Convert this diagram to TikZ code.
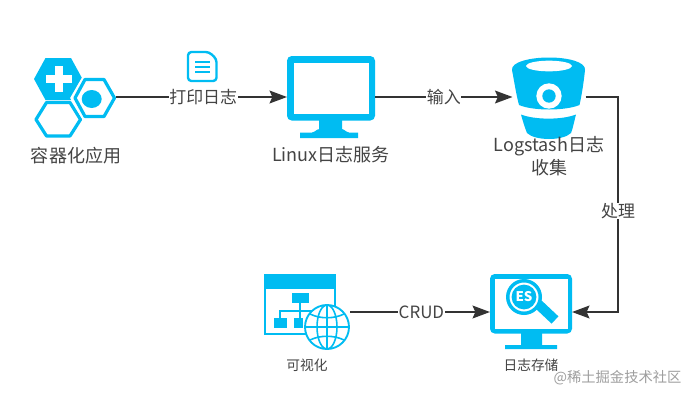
\documentclass[tikz,border=0pt]{standalone}
\usepackage{fontspec}
\setmainfont{Noto Sans CJK SC}
\usetikzlibrary{arrows.meta}
\definecolor{iconblue}{HTML}{00BCF2}
\definecolor{inkgrey}{HTML}{333333}
\definecolor{textgrey}{HTML}{444444}
\tikzset{
  x=0.75pt,y=-0.75pt,
  iconbox/.style={inner sep=0pt,outer sep=0pt,minimum width=#1},
  bluefill/.style={fill=iconblue,draw=none},
  whitefill/.style={fill=white,draw=none},
  blueline/.style={draw=iconblue,line width=2.4pt,line join=round},
  conn/.style={draw=inkgrey,line width=1.75pt,-{Stealth[length=13pt,width=9.5pt,inset=2pt]}},
  linelabel/.style={fill=white,inner sep=0.5pt,text=textgrey,font=\fontsize{12.7pt}{14pt}\selectfont},
  biglabel/.style={text=textgrey,inner sep=0pt,font=\fontsize{13.5pt}{17pt}\selectfont,align=center},
  smalllabel/.style={text=textgrey,inner sep=0pt,font=\fontsize{10.3pt}{12pt}\selectfont}
}
\begin{document}
\begin{tikzpicture}
\useasboundingbox (0,0) rectangle (695,400);
\fill[white] (0,0) rectangle (695,400);
% anchor boxes
\node[iconbox=60.75pt,minimum height=60.75pt] (app) at (75.5,97) {};
\node[iconbox=66pt,minimum height=48pt] (linux) at (331,97) {};
\node[iconbox=54.75pt,minimum height=60pt] (bucket) at (549,97) {};
\node[iconbox=61.5pt,minimum height=56.25pt] (es) at (531,312) {};
\node[iconbox=64.5pt,minimum height=57pt] (vis) at (307,312) {};
% app icon
\fill[bluefill] (34,79)--(45.5,58)--(71,58)--(82.5,79)--(71,100)--(45.5,100)--cycle;
\draw[blueline] (36,119.5)--(46.5,102.5)--(70,102.5)--(80.5,119.5)--(70,136)--(46.5,136)--cycle;
\draw[draw=white,line width=2.4pt,fill=white] (72,98)--(83.5,78)--(105.5,78)--(117,98)--(105.5,118)--(83.5,118)--cycle;
\draw[blueline,fill=white] (75,98)--(85,79.5)--(104,79.5)--(114.5,98)--(104,116.5)--(85,116.5)--cycle;
\fill[bluefill] (91.7,99) ellipse (7.5pt and 6.75pt);
\fill[whitefill] (46,74.5) rectangle (72,82.5);
\fill[whitefill] (55,65.5) rectangle (63,92);
% doc icon
\node[iconbox=22.5pt,minimum height=23.25pt] (doc) at (202,66.5) {};
\draw[draw=iconblue,line width=1.8pt,line join=round,rounded corners=2.5pt] (188,52)--(209,52)--(216.5,59)--(216.5,81)--(188,81)--cycle;
\foreach \yy in {62,67,72}{\fill[bluefill] (195,\yy-1.4) rectangle (210,\yy+1.4);}
% linux monitor
\fill[bluefill,rounded corners=3.5pt] (287,56) rectangle (375,120.5);
\fill[whitefill] (294,63) rectangle (369,114);
\fill[bluefill] (319,119)--(342,119)--(342,130) to[out=90,in=180] (349,132.5)--(358,132.5)--(358,138)--(300,138)--(300,132.5)--(312,132.5) to[out=0,in=90] (319,130)--cycle;
% bucket
\fill[bluefill] (512,70) .. controls (511,62) and (530,57.5) .. (549,57.5) .. controls (568,57.5) and (586,62) .. (585,70)
  .. controls (584,80) and (582,94) .. (579.5,105) .. controls (565,111) and (533,111) .. (519,105) .. controls (516,94) and (514,80) .. (512,70) -- cycle;
\fill[whitefill] (549,66) ellipse (17.25pt and 4pt);
\fill[bluefill] (521,114.5) .. controls (535,120) and (562,120) .. (576,114.5) .. controls (574,122) and (573,128) .. (571,133) .. controls (563,141) and (535,141) .. (527,133) .. controls (525,128) and (523,122) .. (521,114.5) -- cycle;
\fill[whitefill] (549,96) circle (9.5pt);
\fill[bluefill] (549,96) circle (5pt);
% ES monitor
\fill[bluefill,rounded corners=3.5pt] (490,274) rectangle (572,333.5);
\fill[whitefill] (494.5,278.5) rectangle (567.5,329);
\fill[bluefill] (521,333)--(542,333)--(542,345)--(557,345)--(557,349)--(505,349)--(505,345)--(521,345)--cycle;
\draw[draw=iconblue,line width=7.5pt] (538,304)--(555,320);
\draw[draw=iconblue,line width=2.6pt,fill=white] (524,297) circle (12.2pt);
\fill[bluefill] (524,297) circle (9.3pt);
\node[inner sep=0pt,text=white,font=\fontsize{10pt}{10pt}\selectfont\bfseries] (estext) at (524,297) {ES};
% visual icon
\fill[bluefill] (264,274) rectangle (336,288.5);
\draw[draw=iconblue,line width=1.1pt] (265,288) rectangle (335,334);
\fill[bluefill] (292,293) rectangle (309,303);
\fill[bluefill] (274,318) rectangle (287,328);
\fill[bluefill] (294,318) rectangle (303,328);
\draw[draw=iconblue,line width=0.9pt] (300,303)--(300,318) (280,318)--(280,311)--(322,311);
\draw[draw=iconblue,line width=1.4pt,fill=white] (327,327) circle (16.5pt);
\draw[draw=iconblue,line width=1.2pt] (327,327) ellipse (7.5pt and 16.5pt);
\draw[draw=iconblue,line width=1.2pt] (327,305)--(327,349) (305,327)--(349,327);
\draw[draw=iconblue,line width=1.2pt] (310,314) .. controls (320,319) and (334,319) .. (344,314);
\draw[draw=iconblue,line width=1.2pt] (310,340) .. controls (320,335) and (334,335) .. (344,340);
% connectors
\draw[conn] (app.east) -- node[linelabel,pos=0.51] (lab1) {打印日志} (linux.west);
\draw[conn] (linux.east) -- node[linelabel,pos=0.5] (lab2) {输入} (bucket.west);
\coordinate (corner1) at (618,97);
\coordinate (corner2) at (618,312);
\draw[conn] (bucket.east) -- (corner1) -- node[linelabel,pos=0.53] (lab3) {处理} (corner2) -- (es.east);
\draw[conn] (vis.east) -- node[linelabel,pos=0.51] (lab4) {CRUD} (es.west);
% labels
\node[biglabel] (t1) at (76,156) {容器化应用};
\node[biglabel] (t2) at (331,155) {Linux日志服务};
\node[biglabel] (t3) at (549,156) {Logstash日志\\收集};
\node[smalllabel] (t4) at (307,365) {可视化};
\node[smalllabel] (t5) at (531,365) {日志存储};
\node[inner sep=0pt,text=black!38,font=\fontsize{10.7pt}{12pt}\selectfont] (wm) at (617.5,378) {@稀土掘金技术社区};
\end{tikzpicture}
\end{document}
